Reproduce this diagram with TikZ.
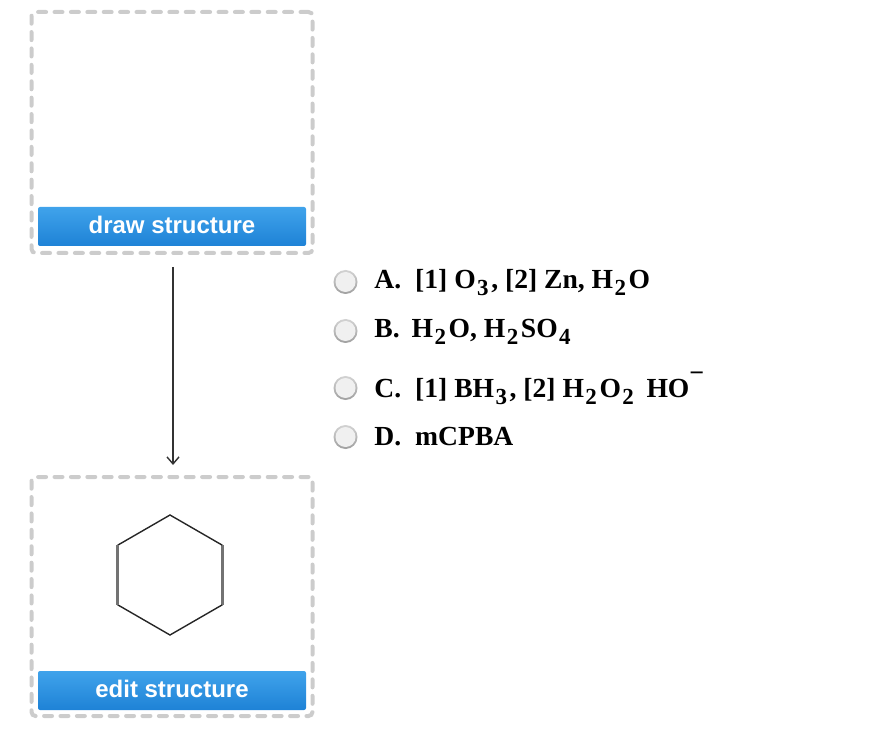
\documentclass[tikz,border=0pt]{standalone}
\usepackage{fontspec}
\setmainfont{Liberation Serif}
\newfontfamily\buttonfont{Liberation Sans}
\usetikzlibrary{shapes.geometric,arrows.meta}
\definecolor{boxgray}{HTML}{CCCCCC}
\definecolor{buttontop}{HTML}{40A3EB}
\definecolor{buttonbottom}{HTML}{1E82D6}
\newcommand{\sub}[1]{\kern0.7pt\raisebox{-3.5pt}{\fontsize{11.5}{12}\selectfont #1}\kern1.3pt}
\tikzset{
	answerbox/.style={draw=boxgray,line width=2pt,line cap=round,dash pattern=on 4pt off 4.2pt,rounded corners=2pt,minimum width=140.5pt,inner sep=0pt,outer sep=0pt},
	button/.style={top color=buttontop,bottom color=buttonbottom,rounded corners=1pt,minimum width=134pt,minimum height=19.5pt,inner sep=0pt,text=white,text height=9pt,text depth=2pt,font=\buttonfont\bfseries\fontsize{12}{14}\selectfont},
	radio/.style={circle,top color=gray!35,bottom color=gray!75,minimum size=12pt,inner sep=0pt,path picture={\fill[gray!12] (path picture bounding box.center) circle (5pt);}},
	answer/.style={anchor=base west,inner sep=0pt,font=\bfseries\fontsize{13.8}{15}\selectfont}
}
\begin{document}
\begin{tikzpicture}[x=0.5pt,y=-0.5pt]
	\useasboundingbox (0,0) rectangle (876,742);
	\node[answerbox,minimum height=120.5pt] (startbox) at (172,132.5) {};
	\node[answerbox,minimum height=119.5pt] (productbox) at (172,596.5) {};
	\node[button] (drawbutton) at (172,226.5) {draw structure};
	\node[button] (editbutton) at (172,690.5) {edit structure};
	\draw[-{Straight Barb[length=3.5pt,width=6pt]},black!80,line width=0.7pt,shorten <=7pt,shorten >=6pt] ([xshift=0.5pt]startbox.south) -- ([xshift=0.5pt]productbox.north);

	% ring
	\node[regular polygon,regular polygon sides=6,shape border rotate=30,draw=black!85,line width=0.7pt,minimum size=60pt,inner sep=0pt] (ring) at (170,575) {};
	\draw[black!55,line width=1.6pt] (ring.corner 2) -- (ring.corner 3);
	\draw[black!55,line width=0.9pt] (ring.corner 5) -- (ring.corner 6);

	% choices
	\node[radio] (radioa) at (345.5,282) {};
	\node[radio] (radiob) at (345.5,331) {};
	\node[radio] (radioc) at (345.5,388) {};
	\node[radio] (radiod) at (345.5,437) {};
	\node[answer] (answera) at (374,289) {A.\hspace{7pt}[1] O\sub{3}, [2] Zn, H\sub{2}O};
	\node[answer] (answerb) at (374,338) {B.\hspace{6pt}H\sub{2}O, H\sub{2}SO\sub{4}};
	\node[answer] (answerc) at (374,397) {C.\hspace{7pt}[1] BH\sub{3}, [2] H\sub{2}O\sub{2}\hspace{5pt}HO\raisebox{0.55em}{\fontsize{13}{13}\selectfont −}};
	\node[answer] (answerd) at (374,445) {D.\hspace{7pt}mCPBA};
\end{tikzpicture}
\end{document}
